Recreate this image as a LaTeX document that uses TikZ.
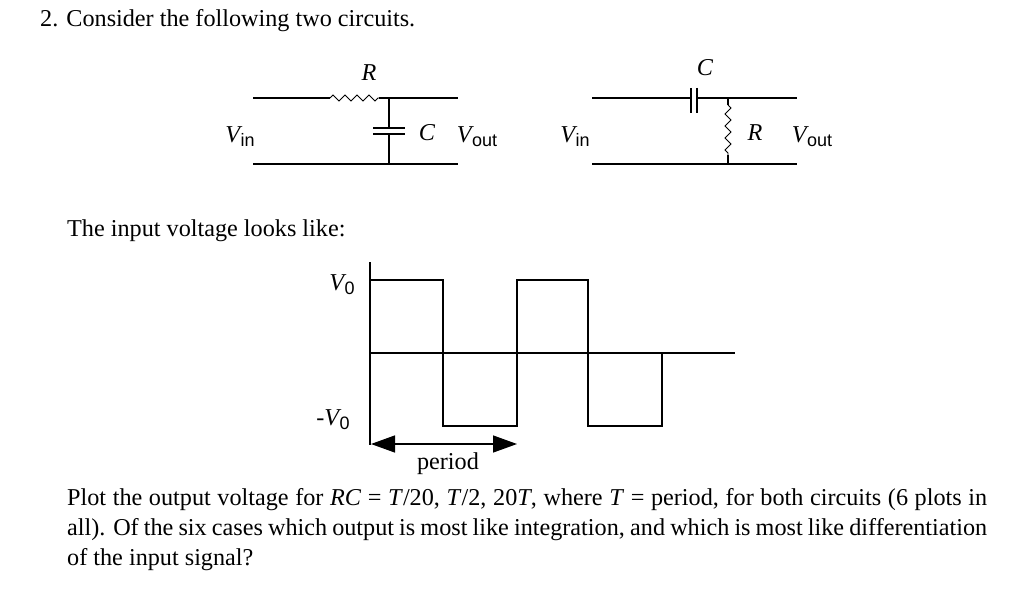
\documentclass[tikz,border=0pt]{standalone}
\usepackage{fontspec}
\setmainfont{Liberation Serif}
\setsansfont{Liberation Sans}
\usetikzlibrary{arrows.meta,decorations.pathmorphing}
\newcommand{\Vsub}[1]{\textit{V}\kern-2pt\raisebox{-4pt}{\sffamily\fontsize{18}{18}\selectfont #1}}
\begin{document}
\begin{tikzpicture}[x=1pt,y=-1pt,
  wire/.style={line width=1.4pt},
  res/.style={line width=0.9pt,decorate,decoration={zigzag,segment length=12pt,amplitude=3pt}},
  lbl/.style={font=\fontsize{24.2}{28}\selectfont,inner sep=0pt},
  every node/.style={lbl}]
\useasboundingbox (0,0) rectangle (1024,596);
\node[anchor=west] (title) at (40,21) {2. Consider the following two circuits.};
% circuit 1
\coordinate (a1) at (253,98); \coordinate (r1a) at (330,98); \coordinate (r1b) at (379,98);
\coordinate (n1) at (389,98); \coordinate (e1) at (458,98);
\coordinate (p1) at (389,128); \coordinate (p2) at (389,134);
\coordinate (b1) at (253,164); \coordinate (g1) at (389,164); \coordinate (f1) at (458,164);
\draw[wire] (a1) -- (r1a); \draw[res] (r1a) -- (r1b); \draw[wire] (r1b) -- (e1);
\draw[wire] (n1) -- (p1); \draw[wire] (p2) -- (g1);
\draw[line width=2pt] (373,128) -- (405,128) (373,134) -- (405,134);
\draw[line width=2pt] (b1) -- (f1);
\node (R1) at (369,73) {\textit{R}};
\node (C1) at (427,133) {\textit{C}};
\node (vi1) at (240,137) {\Vsub{in}};
\node (vo1) at (477,137) {\Vsub{out}};
% circuit 2
\coordinate (a2) at (592,98); \coordinate (c2a) at (691,98); \coordinate (c2b) at (697,98);
\coordinate (n2) at (728,98); \coordinate (e2) at (797,98);
\coordinate (r2a) at (728,105); \coordinate (r2b) at (728,155);
\coordinate (b2) at (592,164); \coordinate (g2) at (728,164); \coordinate (f2) at (797,164);
\draw[wire] (a2) -- (c2a); \draw[wire] (c2b) -- (e2);
\draw[line width=1.6pt] (691,88) -- (691,113) (697,88) -- (697,113);
\draw[wire] (n2) -- (r2a); \draw[res] (r2a) -- (r2b); \draw[wire] (r2b) -- (g2);
\draw[line width=2pt] (b2) -- (f2);
\node (C2) at (705,68) {\textit{C}};
\node (R2) at (755,133) {\textit{R}};
\node (vi2) at (575,137) {\Vsub{in}};
\node (vo2) at (812,137) {\Vsub{out}};
% input
\node[anchor=west] (inp) at (67,231) {The input voltage looks like:};
\draw[wire] (370,262) -- (370,445);
\draw[wire] (370,353) -- (735,353);
\draw[wire] (370,280) -- (443,280) -- (443,426) -- (517,426) -- (517,280) -- (588,280) -- (588,426) -- (662,426) -- (662,353);
\node (v0) at (342,285) {\Vsub{0}};
\node (mv0) at (333,420) {-\Vsub{0}};
\coordinate (pa) at (371,444); \coordinate (pb) at (517,444);
\draw[line width=1.4pt,{Triangle[length=24pt,width=17pt]}-{Triangle[length=24pt,width=17pt]}] (pa) -- (pb);
\node (per) at (448,464) {period};
\node[anchor=north west,text width=920pt,align=justify,font=\fontsize{24.2}{30}\selectfont] (para) at (67,488)
{Plot the output voltage for \textit{RC} = \textit{T}/20, \textit{T}/2, 20\textit{T}, where \textit{T} = period, for both circuits (6 plots in all). Of the six cases which output is most like integration, and which is most like differentiation of the input signal?};
\end{tikzpicture}
\end{document}
